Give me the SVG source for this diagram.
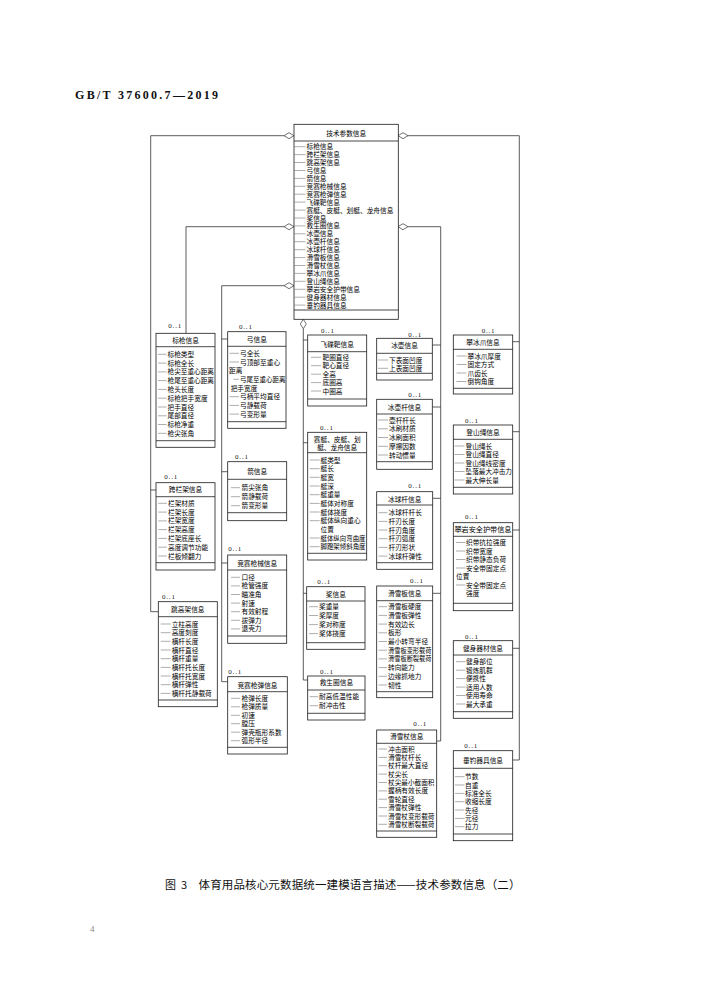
<svg xmlns="http://www.w3.org/2000/svg" width="707" height="1000" viewBox="0 0 707 1000">
<style>
.b{fill:#fff;stroke:#1a1a1a;stroke-width:0.8}
.s{fill:none;stroke:#1a1a1a;stroke-width:0.8}
.d{fill:none;stroke:#777;stroke-width:0.6}
.c{fill:none;stroke:#333;stroke-width:0.8}
.dm{fill:#fff;stroke:#333;stroke-width:0.7}
.t{font-family:"Noto Sans CJK SC","Noto Sans",sans-serif;font-size:6.7px;fill:#000}
.h{font-family:"Noto Sans CJK SC","Noto Sans",sans-serif;font-size:6.7px;fill:#000;text-anchor:middle}
.m{font-family:"Liberation Serif",serif;font-size:7px;fill:#222;letter-spacing:0.8px}
</style>
<rect width="707" height="1000" fill="#fff"/>
<text x="75" y="99" font-family="Liberation Serif,serif" font-weight="bold" font-size="12" textLength="143" fill="#111">GB/T 37600.7—2019</text>

<g id="connectors">
<path class="c" d="M284 135.7H150.7V611.7H158.3M150.7 490H156"/>
<path class="c" d="M284 226.7H186V333.3"/>
<path class="c" d="M284 285.7H221.7V681.7H227.7M221.7 339H227.7M221.7 471.7H227.7M221.7 563H227.7"/>
<path class="c" d="M303.3 328.7V680H307.7M303.3 340H307.7M303.3 442.7H307.7M303.3 593.3H306.7"/>
<path class="c" d="M408 226.7H440.7V741H436.7M440.7 345H432.3M440.7 407H432.3M440.7 498.3H432.7M440.7 593.3H432.7"/>
<path class="c" d="M408 135.7H519.3V760H512.7M519.3 341.7H512.7M519.3 431.7H512.7M519.3 530H512.7M519.3 648.3H512.7"/>
<polygon class="dm" points="284,135.7 289,132.7 294,135.7 289,138.7"/>
<polygon class="dm" points="398,135.7 403,132.7 408,135.7 403,138.7"/>
<polygon class="dm" points="284,226.7 289,223.7 294,226.7 289,229.7"/>
<polygon class="dm" points="398,226.7 403,223.7 408,226.7 403,229.7"/>
<polygon class="dm" points="284,285.7 289,282.7 294,285.7 289,288.7"/>
<polygon class="dm" points="303.3,319.3 306.3,324 303.3,328.7 300.3,324"/>
<text class="m" x="168.3" y="327.5">0..1</text>
<text class="m" x="239" y="329.2">0..1</text>
<text class="m" x="235" y="459.2">0..1</text>
<text class="m" x="164.3" y="478.5">0..1</text>
<text class="m" x="228.3" y="550.8">0..1</text>
<text class="m" x="162" y="599.2">0..1</text>
<text class="m" x="228.3" y="674.2">0..1</text>
<text class="m" x="321" y="333.2">0..1</text>
<text class="m" x="408.3" y="336.5">0..1</text>
<text class="m" x="408.3" y="396.5">0..1</text>
<text class="m" x="320" y="429.8">0..1</text>
<text class="m" x="408.3" y="488.2">0..1</text>
<text class="m" x="317.3" y="584.2">0..1</text>
<text class="m" x="410" y="582.5">0..1</text>
<text class="m" x="320" y="673.5">0..1</text>
<text class="m" x="413.3" y="725.8">0..1</text>
<text class="m" x="481.7" y="332.5">0..1</text>
<text class="m" x="465" y="422.5">0..1</text>
<text class="m" x="465" y="519.2">0..1</text>
<text class="m" x="465" y="638.5">0..1</text>
<text class="m" x="464.3" y="747.5">0..1</text>
</g>

<g id="n-main">
<rect class="b" x="294" y="124.3" width="104.3" height="195"/>
<path class="s" d="M294 141h104.3M294 310h104.3"/>
<text class="h" x="346.2" y="135.8">技术参数信息</text>
<path class="d" d="M294 146.7h11.5M294 154.6h11.5M294 162.5h11.5M294 170.5h11.5M294 178.4h11.5M294 186.3h11.5M294 194.2h11.5M294 202.1h11.5M294 210.1h11.5M294 218h11.5M294 225.9h11.5M294 233.8h11.5M294 241.7h11.5M294 249.7h11.5M294 257.6h11.5M294 265.5h11.5M294 273.4h11.5M294 281.3h11.5M294 289.3h11.5M294 297.2h11.5M294 305.1h11.5"/>
<text class="t"><tspan x="306.5" y="149.2">标枪信息</tspan><tspan x="306.5" y="157.1">跨栏架信息</tspan><tspan x="306.5" y="165">跳高架信息</tspan><tspan x="306.5" y="173">弓信息</tspan><tspan x="306.5" y="180.9">箭信息</tspan><tspan x="306.5" y="188.8">竞赛枪械信息</tspan><tspan x="306.5" y="196.7">竞赛枪弹信息</tspan><tspan x="306.5" y="204.6">飞碟靶信息</tspan><tspan x="306.5" y="212.6">赛艇、皮艇、划艇、龙舟信息</tspan><tspan x="306.5" y="220.5">桨信息</tspan><tspan x="306.5" y="228.4">救生圈信息</tspan><tspan x="306.5" y="236.3">冰壶信息</tspan><tspan x="306.5" y="244.2">冰壶杆信息</tspan><tspan x="306.5" y="252.2">冰球杆信息</tspan><tspan x="306.5" y="260.1">滑雪板信息</tspan><tspan x="306.5" y="268">滑雪杖信息</tspan><tspan x="306.5" y="275.9">攀冰爪信息</tspan><tspan x="306.5" y="283.8">登山绳信息</tspan><tspan x="306.5" y="291.8">攀岩安全护带信息</tspan><tspan x="306.5" y="299.7">健身器材信息</tspan><tspan x="306.5" y="307.6">垂钓器具信息</tspan></text>
</g>

<g id="n-biaoqiang">
<rect class="b" x="156" y="333.3" width="59" height="114"/>
<path class="s" d="M156 346.7h59M156 440.7h59"/>
<text class="h" x="185.5" y="343">标枪信息</text>
<path class="d" d="M158 354.3h8.5M158 363.1h8.5M158 371.9h8.5M158 380.6h8.5M158 389.4h8.5M158 398.2h8.5M158 407h8.5M158 415.8h8.5M158 424.5h8.5M158 433.3h8.5"/>
<text class="t"><tspan x="167.5" y="356.8">标枪类型</tspan><tspan x="167.5" y="365.6">标枪全长</tspan></text>
<text class="t" x="167.5" y="374.4" textLength="46.5" lengthAdjust="spacingAndGlyphs">枪尖至重心距离</text>
<text class="t" x="167.5" y="383.1" textLength="46.5" lengthAdjust="spacingAndGlyphs">枪尾至重心距离</text>
<text class="t"><tspan x="167.5" y="391.9">枪头长度</tspan><tspan x="167.5" y="400.7">标枪把手宽度</tspan><tspan x="167.5" y="409.5">把手直径</tspan><tspan x="167.5" y="418.3">尾部直径</tspan><tspan x="167.5" y="427">标枪净重</tspan><tspan x="167.5" y="435.8">枪尖张角</tspan></text>
</g>

<g id="n-kualanjia">
<rect class="b" x="156" y="482.7" width="59" height="87.3"/>
<path class="s" d="M156 496.7h59M156 562.7h59"/>
<text class="h" x="185.5" y="492.2">跨栏架信息</text>
<path class="d" d="M158.3 503.3h8.5M158.3 512.1h8.5M158.3 520.9h8.5M158.3 529.6h8.5M158.3 538.4h8.5M158.3 547.2h8.5M158.3 556h8.5"/>
<text class="t"><tspan x="168" y="505.8">栏架材质</tspan><tspan x="168" y="514.6">栏架长度</tspan><tspan x="168" y="523.4">栏架宽度</tspan><tspan x="168" y="532.1">栏架高度</tspan><tspan x="168" y="540.9">栏架底座长</tspan><tspan x="168" y="549.7">高度调节功能</tspan><tspan x="168" y="558.5">栏板倾翻力</tspan></text>
</g>

<g id="n-tiaogaojia">
<rect class="b" x="158.3" y="601.7" width="59" height="105"/>
<path class="s" d="M158.3 616.7h59M158.3 700h59"/>
<text class="h" x="187.8" y="611.5">跳高架信息</text>
<path class="d" d="M160.7 624h10M160.7 632.7h10M160.7 641.3h10M160.7 650h10M160.7 658.7h10M160.7 667.4h10M160.7 676h10M160.7 684.7h10M160.7 693.4h10"/>
<text class="t"><tspan x="171.7" y="626.5">立柱高度</tspan><tspan x="171.7" y="635.2">高度刻度</tspan><tspan x="171.7" y="643.8">横杆长度</tspan><tspan x="171.7" y="652.5">横杆直径</tspan><tspan x="171.7" y="661.2">横杆重量</tspan><tspan x="171.7" y="669.9">横杆托长度</tspan><tspan x="171.7" y="678.5">横杆托宽度</tspan><tspan x="171.7" y="687.2">横杆弹性</tspan><tspan x="171.7" y="695.9">横杆托静载荷</tspan></text>
</g>

<g id="n-gong">
<rect class="b" x="227.7" y="331.7" width="58.3" height="96.6"/>
<path class="s" d="M227.7 346.3h58.3M227.7 421.7h58.3"/>
<text class="h" x="256.9" y="341.5">弓信息</text>
<path class="d" d="M229.5 353.3h9.5M229.5 362h9.5M233.5 379.3h5.5M229.5 396.7h9.5M229.5 405.4h9.5M229.5 414.1h9.5"/>
<text class="t"><tspan x="240" y="355.8">弓全长</tspan><tspan x="240" y="364.5">弓顶部至重心</tspan><tspan x="229" y="373.2">距离</tspan></text>
<text class="t" x="240" y="381.8" textLength="45.5" lengthAdjust="spacingAndGlyphs">弓尾至重心距离</text>
<text class="t"><tspan x="230.7" y="390.5">把手宽度</tspan><tspan x="240" y="399.2">弓柄平均直径</tspan><tspan x="240" y="407.9">弓静载荷</tspan><tspan x="240" y="416.6">弓变形量</tspan></text>
</g>

<g id="n-jian">
<rect class="b" x="227.7" y="461.7" width="59" height="59"/>
<path class="s" d="M227.7 479.3h59M227.7 512.7h59"/>
<text class="h" x="257.2" y="474.2">箭信息</text>
<path class="d" d="M231 487.7h9M231 496.7h9M231 505.7h9"/>
<text class="t"><tspan x="241.5" y="490.2">箭尖张角</tspan><tspan x="241.5" y="499.2">箭静载荷</tspan><tspan x="241.5" y="508.2">箭变形量</tspan></text>
</g>

<g id="n-qiangxie">
<rect class="b" x="227.7" y="555" width="59" height="88.3"/>
<path class="s" d="M227.7 570h59M227.7 636h59"/>
<text class="h" x="257.2" y="565.5">竞赛枪械信息</text>
<path class="d" d="M231 577.3h9M231 585.9h9M231 594.5h9M231 603.1h9M231 611.7h9M231 620.3h9M231 628.9h9"/>
<text class="t"><tspan x="241.5" y="579.8">口径</tspan><tspan x="241.5" y="588.4">枪管强度</tspan><tspan x="241.5" y="597">瞄准角</tspan><tspan x="241.5" y="605.6">射速</tspan><tspan x="241.5" y="614.2">有效射程</tspan><tspan x="241.5" y="622.8">拔弹力</tspan><tspan x="241.5" y="631.4">退壳力</tspan></text>
</g>

<g id="n-qiangdan">
<rect class="b" x="227.7" y="676.7" width="59.6" height="77.3"/>
<path class="s" d="M227.7 691.7h59.6M227.7 747.3h59.6"/>
<text class="h" x="257.5" y="687.5">竞赛枪弹信息</text>
<path class="d" d="M231 698.3h9M231 706.8h9M231 715.3h9M231 723.7h9M231 732.2h9M231 740.7h9"/>
<text class="t"><tspan x="241.5" y="700.8">枪弹长度</tspan><tspan x="241.5" y="709.3">枪弹质量</tspan><tspan x="241.5" y="717.8">初速</tspan><tspan x="241.5" y="726.2">膛压</tspan><tspan x="241.5" y="734.7">弹壳瓶形系数</tspan><tspan x="241.5" y="743.2">弧形半径</tspan></text>
</g>

<g id="n-feidieba">
<rect class="b" x="307.7" y="335" width="59" height="71"/>
<path class="s" d="M307.7 351.7h59M307.7 399h59"/>
<text class="h" x="337.2" y="346.8">飞碟靶信息</text>
<path class="d" d="M311 357.3h10M311 365.7h10M311 374.2h10M311 382.6h10M311 391h10"/>
<text class="t"><tspan x="322.5" y="359.8">靶圈直径</tspan><tspan x="322.5" y="368.2">靶心直径</tspan><tspan x="322.5" y="376.7">全高</tspan><tspan x="322.5" y="385.1">底圈高</tspan><tspan x="322.5" y="393.5">中圈高</tspan></text>
</g>

<g id="n-saiting">
<rect class="b" x="307.7" y="432.3" width="59" height="127.7"/>
<path class="s" d="M307.7 452.7h59M307.7 553.3h59"/>
<text class="h"><tspan x="337.2" y="441.5">赛艇、皮艇、划</tspan><tspan x="337.2" y="449.8">艇、龙舟信息</tspan></text>
<path class="d" d="M309.7 460h10M309.7 468.7h10M309.7 477.3h10M309.7 486h10M309.7 494.7h10M309.7 503.4h10M309.7 512h10M309.7 520.7h10M309.7 538h10M309.7 546.7h10"/>
<text class="t"><tspan x="320.5" y="462.5">艇类型</tspan><tspan x="320.5" y="471.2">艇长</tspan><tspan x="320.5" y="479.8">艇宽</tspan><tspan x="320.5" y="488.5">艇深</tspan><tspan x="320.5" y="497.2">艇重量</tspan><tspan x="320.5" y="505.9">艇体对称度</tspan><tspan x="320.5" y="514.5">艇体挠度</tspan><tspan x="320.5" y="523.2">艇体纵向重心</tspan><tspan x="320.5" y="531.9">位置</tspan></text>
<text class="t" x="320.5" y="540.5" textLength="45" lengthAdjust="spacingAndGlyphs">艇体纵向弯曲度</text>
<text class="t" x="320.5" y="549.2" textLength="45" lengthAdjust="spacingAndGlyphs">脚蹬架倾斜角度</text>
</g>

<g id="n-jiang">
<rect class="b" x="306.7" y="586.7" width="58.3" height="62.6"/>
<path class="s" d="M306.7 601h58.3M306.7 642.7h58.3"/>
<text class="h" x="335.9" y="596.8">桨信息</text>
<path class="d" d="M309 606.7h9M309 615.5h9M309 624.6h9M309 633.6h9"/>
<text class="t"><tspan x="319" y="609.2">桨重量</tspan><tspan x="319" y="618">桨厚度</tspan><tspan x="319" y="627.1">桨对称度</tspan><tspan x="319" y="636.1">桨体挠度</tspan></text>
</g>

<g id="n-jiushengquan">
<rect class="b" x="307.7" y="676" width="57.3" height="44"/>
<path class="s" d="M307.7 690h57.3M307.7 713.3h57.3"/>
<text class="h" x="336.4" y="685.2">救生圈信息</text>
<path class="d" d="M309.7 696.7h8.5M309.7 705.7h8.5"/>
<text class="t"><tspan x="319" y="699.2">耐高低温性能</tspan><tspan x="319" y="708.2">耐冲击性</tspan></text>
</g>

<g id="n-binghu">
<rect class="b" x="376.7" y="338.3" width="55.6" height="41.7"/>
<path class="s" d="M376.7 353.3h55.6M376.7 373.3h55.6"/>
<text class="h" x="404.5" y="348.2">冰壶信息</text>
<path class="d" d="M378 360h10M378 368.3h10"/>
<text class="t"><tspan x="389" y="362.5">下表面凹度</tspan><tspan x="389" y="370.8">上表面凹度</tspan></text>
</g>

<g id="n-binghugan">
<rect class="b" x="376.7" y="399.3" width="55.6" height="70"/>
<path class="s" d="M376.7 414h55.6M376.7 461.7h55.6"/>
<text class="h" x="404.5" y="409.8">冰壶杆信息</text>
<path class="d" d="M378 420h10M378 428.8h10M378 437.5h10M378 446.3h10M378 455h10"/>
<text class="t"><tspan x="389" y="422.5">壶杆杆长</tspan><tspan x="389" y="431.3">冰刷材质</tspan><tspan x="389" y="440">冰刷面积</tspan><tspan x="389" y="448.8">摩擦因数</tspan><tspan x="389" y="457.5">转动惯量</tspan></text>
</g>

<g id="n-bingqiugan">
<rect class="b" x="376.7" y="491.7" width="56" height="77.6"/>
<path class="s" d="M376.7 505h56M376.7 562.7h56"/>
<text class="h" x="404.7" y="501.5">冰球杆信息</text>
<path class="d" d="M378.5 512.7h9M378.5 521.4h9M378.5 530h9M378.5 538.7h9M378.5 547.4h9M378.5 556.1h9"/>
<text class="t"><tspan x="388.5" y="515.2">冰球杆杆长</tspan><tspan x="388.5" y="523.9">杆刃长度</tspan><tspan x="388.5" y="532.5">杆刃角度</tspan><tspan x="388.5" y="541.2">杆刃弧度</tspan><tspan x="388.5" y="549.9">杆刃形状</tspan><tspan x="388.5" y="558.6">冰球杆弹性</tspan></text>
</g>

<g id="n-huaxueban">
<rect class="b" x="376.7" y="586" width="56" height="111.7"/>
<path class="s" d="M376.7 600.7h56M376.7 691.7h56"/>
<text class="h" x="404.7" y="595.8">滑雪板信息</text>
<path class="d" d="M378.5 606.7h8.5M378.5 615.4h8.5M378.5 624.1h8.5M378.5 632.8h8.5M378.5 641.5h8.5M378.5 650.2h8.5M378.5 658.9h8.5M378.5 667.6h8.5M378.5 676.3h8.5M378.5 685h8.5"/>
<text class="t"><tspan x="388" y="609.2">滑雪板硬度</tspan><tspan x="388" y="617.9">滑雪板弹性</tspan><tspan x="388" y="626.6">有效边长</tspan><tspan x="388" y="635.3">板形</tspan><tspan x="388" y="644">最小转弯半径</tspan></text>
<text class="t" x="388" y="652.7" textLength="43.5" lengthAdjust="spacingAndGlyphs">滑雪板变形载荷</text>
<text class="t" x="388" y="661.4" textLength="43.5" lengthAdjust="spacingAndGlyphs">滑雪板断裂载荷</text>
<text class="t"><tspan x="388" y="670.1">转向能力</tspan><tspan x="388" y="678.8">边缘抓地力</tspan><tspan x="388" y="687.5">韧性</tspan></text>
</g>

<g id="n-huaxuezhang">
<rect class="b" x="376.7" y="730" width="60" height="107.3"/>
<path class="s" d="M376.7 743.3h60M376.7 831h60"/>
<text class="h" x="406.7" y="739.2">滑雪杖信息</text>
<path class="d" d="M378.5 749h8.5M378.5 757.4h8.5M378.5 765.7h8.5M378.5 774.1h8.5M378.5 782.5h8.5M378.5 790.9h8.5M378.5 799.2h8.5M378.5 807.6h8.5M378.5 816h8.5M378.5 824.3h8.5"/>
<text class="t"><tspan x="388" y="751.5">冲击面积</tspan><tspan x="388" y="759.9">滑雪杖杆长</tspan><tspan x="388" y="768.2">杖杆最大直径</tspan><tspan x="388" y="776.6">杖尖长</tspan></text>
<text class="t" x="388" y="785" textLength="46.5" lengthAdjust="spacingAndGlyphs">杖尖最小截面积</text>
<text class="t"><tspan x="388" y="793.4">握柄有效长度</tspan><tspan x="388" y="801.7">雪轮直径</tspan><tspan x="388" y="810.1">滑雪杖弹性</tspan></text>
<text class="t" x="388" y="818.5" textLength="46.5" lengthAdjust="spacingAndGlyphs">滑雪杖变形载荷</text>
<text class="t" x="388" y="826.8" textLength="46.5" lengthAdjust="spacingAndGlyphs">滑雪杖断裂载荷</text>
</g>

<g id="n-panbingzhua">
<rect class="b" x="453.3" y="335" width="59.4" height="59"/>
<path class="s" d="M453.3 349.3h59.4M453.3 388.3h59.4"/>
<text class="h" x="483" y="344.8">攀冰爪信息</text>
<path class="d" d="M456.5 356h10M456.5 364.5h10M456.5 373h10M456.5 381.5h10"/>
<text class="t"><tspan x="467.5" y="358.5">攀冰爪厚度</tspan><tspan x="467.5" y="367">固定方式</tspan><tspan x="467.5" y="375.5">爪齿长</tspan><tspan x="467.5" y="384">倒钩角度</tspan></text>
</g>

<g id="n-dengshansheng">
<rect class="b" x="453.3" y="425" width="59.4" height="69"/>
<path class="s" d="M453.3 439.3h59.4M453.3 487.3h59.4"/>
<text class="h" x="483" y="434.8">登山绳信息</text>
<path class="d" d="M454.5 446h10M454.5 454.5h10M454.5 463h10M454.5 471.5h10M454.5 480h10"/>
<text class="t"><tspan x="465.5" y="448.5">登山绳长</tspan><tspan x="465.5" y="457">登山绳直径</tspan><tspan x="465.5" y="465.5">登山绳线密度</tspan></text>
<text class="t" x="465.5" y="474" textLength="46.5" lengthAdjust="spacingAndGlyphs">坠落最大冲击力</text>
<text class="t" x="465.5" y="482.5">最大伸长量</text>
</g>

<g id="n-panyan">
<rect class="b" x="453.3" y="522.7" width="59.4" height="88"/>
<path class="s" d="M453.3 536.3h59.4M453.3 603.3h59.4"/>
<text class="h" x="483" y="532.3" textLength="57" lengthAdjust="spacingAndGlyphs">攀岩安全护带信息</text>
<path class="d" d="M456 542.5h9.5M456 551h9.5M456 559.5h9.5M456 568h9.5M456 585h9.5"/>
<text class="t"><tspan x="466" y="545">织带抗拉强度</tspan><tspan x="466" y="553.5">织带宽度</tspan><tspan x="466" y="562">织带静态负荷</tspan><tspan x="466" y="570.5">安全带固定点</tspan><tspan x="456" y="579">位置</tspan><tspan x="466" y="587.5">安全带固定点</tspan><tspan x="466" y="596">强度</tspan></text>
</g>

<g id="n-jianshen">
<rect class="b" x="453.3" y="640.7" width="59.4" height="77.6"/>
<path class="s" d="M453.3 655h59.4M453.3 711.7h59.4"/>
<text class="h" x="483" y="650.8">健身器材信息</text>
<path class="d" d="M456 661.7h9.5M456 670.2h9.5M456 678.6h9.5M456 687.1h9.5M456 695.5h9.5M456 704h9.5"/>
<text class="t"><tspan x="466" y="664.2">健身部位</tspan><tspan x="466" y="672.7">锻炼肌群</tspan><tspan x="466" y="681.1">便携性</tspan><tspan x="466" y="689.6">适用人数</tspan><tspan x="466" y="698">使用寿命</tspan><tspan x="466" y="706.5">最大承重</tspan></text>
</g>

<g id="n-chuidiao">
<rect class="b" x="453.3" y="750.7" width="59.4" height="90"/>
<path class="s" d="M453.3 768.3h59.4M453.3 834h59.4"/>
<text class="h" x="483" y="762.5">垂钓器具信息</text>
<path class="d" d="M455 776.7h9.5M455 785h9.5M455 793.4h9.5M455 801.7h9.5M455 810h9.5M455 818.4h9.5M455 826.7h9.5"/>
<text class="t"><tspan x="465" y="779.2">节数</tspan><tspan x="465" y="787.5">自重</tspan><tspan x="465" y="795.9">标准全长</tspan><tspan x="465" y="804.2">收缩长度</tspan><tspan x="465" y="812.5">先径</tspan><tspan x="465" y="820.9">元径</tspan><tspan x="465" y="829.2">拉力</tspan></text>
</g>

<text x="165" y="889" font-family="Noto Sans CJK SC,sans-serif" font-size="11" fill="#111">图</text>
<text x="181" y="889" font-family="Noto Sans CJK SC,sans-serif" font-size="11" fill="#111">3</text>
<text x="198.5" y="889" font-family="Noto Sans CJK SC,sans-serif" font-size="11.5" textLength="322" fill="#111">体育用品核心元数据统一建模语言描述——技术参数信息（二）</text>
<text x="90" y="932" font-family="Liberation Serif,serif" font-size="9" fill="#888">4</text>
</svg>
